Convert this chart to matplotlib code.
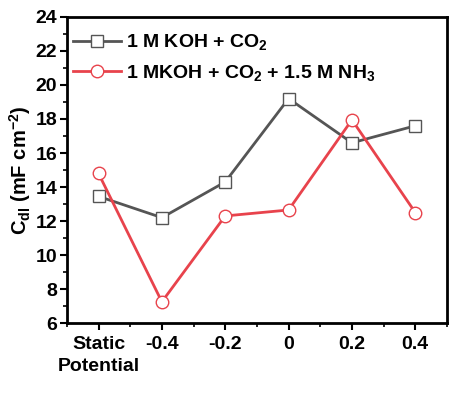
import numpy as np
import matplotlib.pyplot as plt
from matplotlib.ticker import MultipleLocator

plt.rcParams['font.family'] = ['Liberation Sans', 'DejaVu Sans']
plt.rcParams['font.weight'] = 'bold'
plt.rcParams['mathtext.fontset'] = 'custom'
plt.rcParams['mathtext.rm'] = 'Liberation Sans:bold'
plt.rcParams['mathtext.bf'] = 'Liberation Sans:bold'
plt.rcParams['mathtext.default'] = 'rm'

categories = ['Static\nPotential', '-0.4', '-0.2', '0', '0.2', '0.4']
koh_co2 = [13.45, 12.2, 14.3, 19.2, 16.6, 17.6]
koh_co2_nh3 = [14.8, 7.25, 12.3, 12.65, 17.95, 12.5]

x = np.arange(len(categories))

fig = plt.figure(figsize=(4.74, 3.94), dpi=100)
ax = fig.add_axes([0.141, 0.180, 0.802, 0.777])

ax.plot(x, koh_co2, '-s', color='#555555', lw=2, ms=8.5,
        mfc='white', mec='#555555', mew=1.0, label=r'1 M KOH + CO$_2$')
ax.plot(x, koh_co2_nh3, '-o', color='#e8434c', lw=2, ms=9,
        mfc='white', mec='#e8434c', mew=1.0, label=r'1 MKOH + CO$_2$ + 1.5 M NH$_3$')

ax.set_xlim(-0.5, 5.5)
ax.set_ylim(6, 24)
ax.set_xticks(x)
ax.set_xticklabels(categories, fontsize=14, fontweight='bold', linespacing=1.45)
ax.xaxis.set_minor_locator(MultipleLocator(0.5))
ax.yaxis.set_major_locator(MultipleLocator(2))
ax.yaxis.set_minor_locator(MultipleLocator(1))
ax.tick_params(axis='y', labelsize=14, pad=2)
ax.tick_params(axis='x', pad=4)
ax.tick_params(which='major', length=5, width=1.5)
ax.tick_params(which='minor', length=3, width=1.2)
for lbl in ax.get_yticklabels():
    lbl.set_fontweight('bold')
for s in ax.spines.values():
    s.set_linewidth(2)

ax.set_ylabel(r'C$_{dl}$ (mF cm$^{-2}$)', fontsize=14.5, fontweight='bold', labelpad=2)

ax.legend(loc='upper left', bbox_to_anchor=(-0.005, 0.975), frameon=False, fontsize=14,
          handlelength=2.5, borderaxespad=0.0, labelspacing=0.55, handletextpad=0.25)

fig.savefig('out.png', dpi=100)
